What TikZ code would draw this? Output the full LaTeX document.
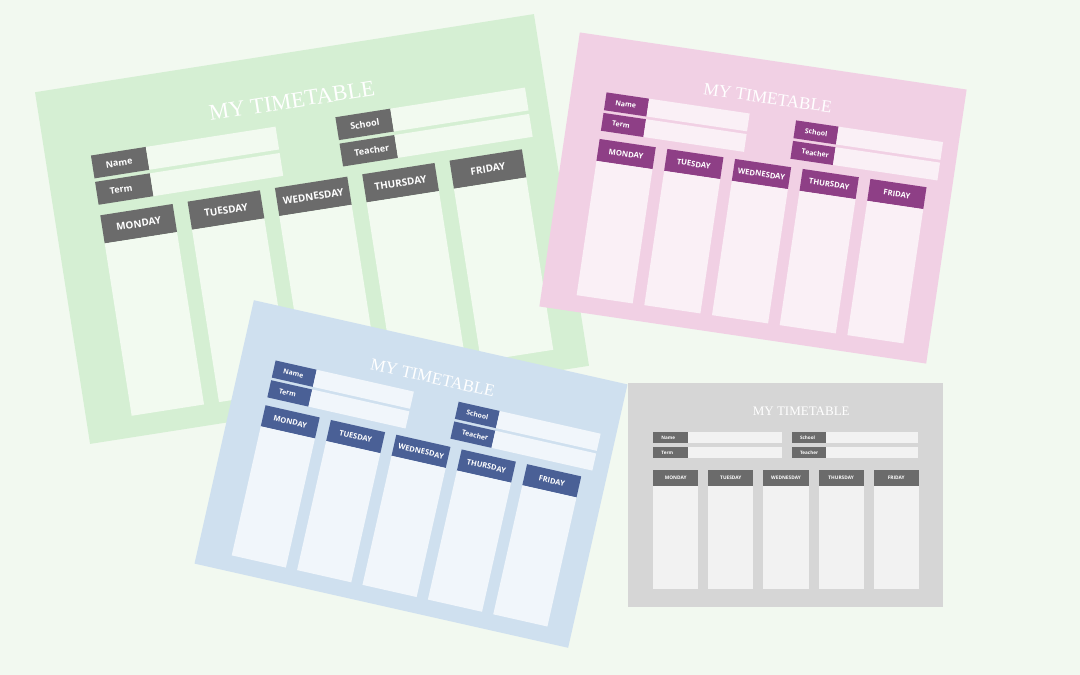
\documentclass[tikz,border=0pt]{standalone}
\usepackage{fontspec}
\setmainfont{Liberation Serif}
\newfontfamily\labfont{Open Sans}
\begin{document}
\newcommand\tcard[9]{% cx cy angle W H bg field lab variant
\begin{scope}[shift={(#1,-#2)},rotate=#3,x=#4pt,y=-#5pt,shift={(-0.5,-0.5)}]
\pgfmathsetmacro\sc{#4/315}
#9
\fill[#6] (0,0) rectangle (1,1);
\node[text=white,font=\fontsize{\tfs}{\tfs}\selectfont,scale=\sc,transform shape] (title) at (\ttx,\tty) {MY TIMETABLE};
\foreach \t/\yy in {Name/\ya,Term/\yb}{
  \fill[#8] (\lx,\yy) rectangle (\lx+\lw,\yy+\rh);
  \fill[#7] (\lx+\lw,\yy) rectangle (\fe,\yy+\rh);
  \node[text=white,font=\labfont\bfseries\fontsize{\lfs}{6}\selectfont,scale=\sc,transform shape,anchor=west] at (\lx+0.015,\yy+\rh/2) {\t};
}
\foreach \t/\yy in {School/\ya,Teacher/\yb}{
  \fill[#8] (\sx,\yy) rectangle (\sx+\lw,\yy+\rh);
  \fill[#7] (\sx+\lw,\yy) rectangle (\se,\yy+\rh);
  \node[text=white,font=\labfont\bfseries\fontsize{\lfs}{6}\selectfont,scale=\sc,transform shape,anchor=west] at (\sx+0.015,\yy+\rh/2) {\t};
}
\foreach \d [count=\i from 0] in {MONDAY,TUESDAY,WEDNESDAY,THURSDAY,FRIDAY}{
  \pgfmathsetmacro\xo{\cm+\i*(\cw+\cg)}
  \fill[#8] (\xo,\hy) rectangle (\xo+\cw,\hy+\hh);
  \fill[#7] (\xo,\hy+\hh) rectangle (\xo+\cw,\cb);
  \node[text=white,font=\labfont\bfseries\fontsize{\dfs}{7}\selectfont,scale=\sc,transform shape] at (\xo+\cw/2,\hy+\hh/2) {\d};
}
\end{scope}}
\def\gvar{\def\ttx{0.55}\def\tty{0.125}\def\tfs{13}\def\lfs{4.6}\def\lx{0.08}\def\lw{0.11}\def\fe{0.49}\def\sx{0.52}\def\se{0.92}\def\ya{0.22}\def\yb{0.285}\def\rh{0.05}\def\cm{0.08}\def\cw{0.143}\def\cg{0.032}\def\hy{0.39}\def\hh{0.07}\def\cb{0.92}\def\dfs{4.8}}
\def\cvar{\def\ttx{0.5}\def\tty{0.135}\def\tfs{14}\def\lfs{5.6}\def\lx{0.09}\def\lw{0.11}\def\fe{0.46}\def\sx{0.58}\def\se{0.96}\def\ya{0.2}\def\yb{0.275}\def\rh{0.065}\def\cm{0.09}\def\cw{0.145}\def\cg{0.03}\def\hy{0.37}\def\hh{0.08}\def\cb{0.94}\def\dfs{6.2}}
\definecolor{bgc}{HTML}{F2F9F0}
\definecolor{grn}{HTML}{D5EFD3}\definecolor{grnf}{HTML}{F2FAF0}
\definecolor{pnk}{HTML}{F1D0E4}\definecolor{pnkf}{HTML}{FAF0F6}\definecolor{pnkl}{HTML}{8E3F86}
\definecolor{blu}{HTML}{CFE0EF}\definecolor{bluf}{HTML}{F1F6FB}\definecolor{blul}{HTML}{4A6096}
\definecolor{gry}{HTML}{D6D6D6}\definecolor{gryf}{HTML}{F2F2F2}\definecolor{gryl}{HTML}{6B6B6B}
\begin{tikzpicture}[x=1pt,y=1pt]
\fill[bgc] (0,0) rectangle (1080,-675);
\useasboundingbox (0,0) rectangle (1080,-675);
\tcard{312}{229}{8.9}{505}{356}{grn}{grnf}{gryl}{\cvar}
\tcard{753}{198}{-8.4}{391}{277}{pnk}{pnkf}{pnkl}{\cvar}
\tcard{411}{474}{-12.7}{383}{270}{blu}{bluf}{blul}{\cvar}
\tcard{785.5}{495}{0}{315}{224}{gry}{gryf}{gryl}{\gvar}
\end{tikzpicture}
\end{document}
